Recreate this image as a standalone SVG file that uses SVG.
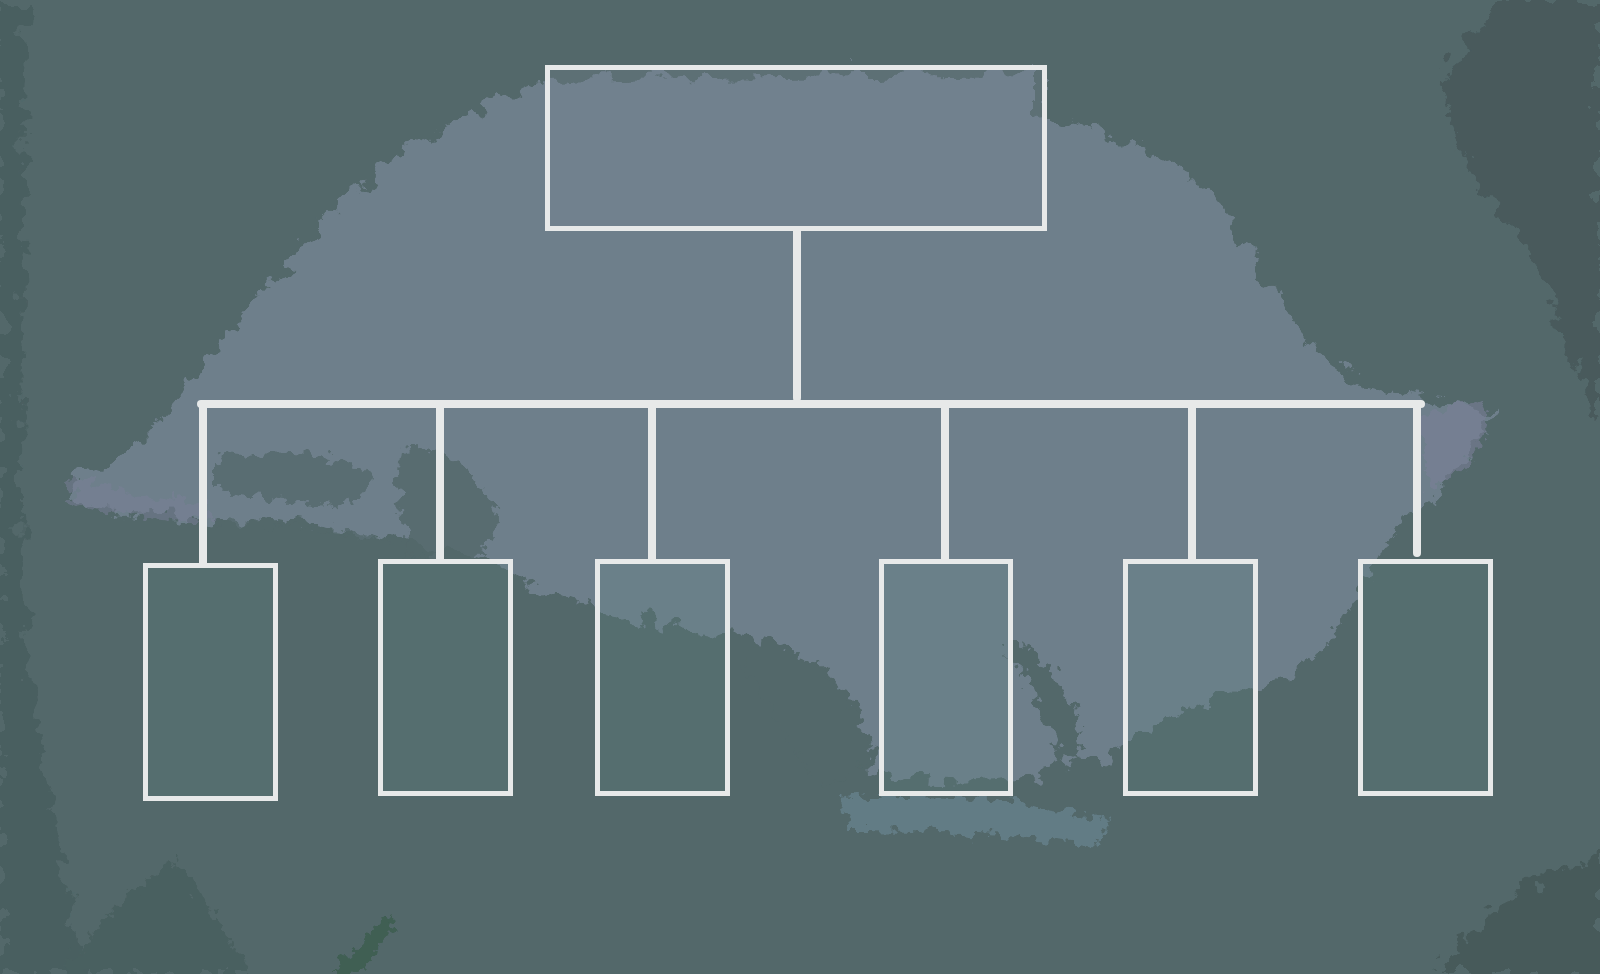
<svg xmlns="http://www.w3.org/2000/svg" width="1600" height="974" viewBox="0 0 1600 974">
<style>
.box{stroke:#e7e9e9;stroke-width:5;fill:#5f8486;fill-opacity:0.22}
.top{stroke:#e7e9e9;stroke-width:5;fill:#7a8896;fill-opacity:0.25}
.conn{stroke:#e7e9e9;stroke-width:8;stroke-linecap:round;fill:none}
</style>
<defs>
<filter id="rough" x="-10%" y="-10%" width="120%" height="120%">
<feTurbulence type="fractalNoise" baseFrequency="0.045" numOctaves="4" seed="3"/>
<feDisplacementMap in="SourceGraphic" scale="38" xChannelSelector="R" yChannelSelector="G"/>
</filter>
<filter id="rough2" x="-10%" y="-10%" width="120%" height="120%">
<feTurbulence type="fractalNoise" baseFrequency="0.08" numOctaves="3" seed="7"/>
<feDisplacementMap in="SourceGraphic" scale="26" xChannelSelector="R" yChannelSelector="G"/>
</filter>
</defs>
<g id="background">
<rect width="1600" height="974" fill="#53686a"/>
<path filter="url(#rough)" fill="#6e7f8b" d="M 545 78 C 480 110 420 140 380 170 C 330 205 300 250 265 290 C 235 320 215 350 195 380 C 165 410 140 440 110 465 L 70 478 L 85 505 C 150 515 300 522 420 545 C 520 565 560 600 620 615 C 700 635 760 635 800 660 C 850 690 870 730 870 770 C 950 790 1050 780 1120 750 C 1150 720 1200 700 1280 680 C 1330 650 1360 605 1385 545 C 1420 505 1470 470 1490 410 C 1440 400 1385 400 1340 372 C 1290 335 1262 272 1232 222 C 1200 172 1120 130 1040 115 L 1040 72 Z"/>
<path filter="url(#rough2)" fill="#53686a" opacity="0.75" d="M 215 460 C 260 450 320 455 360 465 C 380 480 370 500 330 505 C 280 500 240 495 215 490 Z"/>
<path filter="url(#rough2)" fill="#53686a" opacity="0.75" d="M 215 520 C 280 525 350 530 410 545 L 400 560 L 215 560 Z"/>
<path filter="url(#rough2)" fill="#53686a" opacity="0.8" d="M 400 450 C 440 440 480 470 500 520 L 480 560 L 410 555 C 400 520 395 480 400 450 Z"/>
<path filter="url(#rough2)" fill="#53686a" d="M 760 640 C 820 650 860 700 870 760 L 820 790 C 790 740 760 700 740 660 Z"/>
<path filter="url(#rough2)" fill="#53686a" d="M 1015 640 C 1050 660 1075 700 1085 750 L 1060 760 C 1050 720 1030 680 1005 655 Z"/>
<path filter="url(#rough2)" fill="#7290a0" opacity="0.5" d="M 840 800 C 920 790 1040 800 1110 820 L 1100 845 C 1020 835 920 830 850 830 Z"/>
<path filter="url(#rough2)" fill="#7a7f98" opacity="0.6" d="M 1420 420 C 1450 400 1480 400 1490 415 C 1480 450 1460 480 1430 490 Z"/>
<path filter="url(#rough2)" fill="#7a7f98" opacity="0.5" d="M 70 478 C 120 490 170 500 210 505 L 210 520 C 160 518 110 512 75 505 Z"/>
<path filter="url(#rough)" fill="#485a5c" d="M 1500 0 L 1600 0 L 1600 420 C 1570 380 1560 300 1530 250 C 1490 200 1450 140 1440 80 C 1460 40 1490 20 1500 0 Z"/>
<path filter="url(#rough)" fill="#4a5f60" d="M 0 0 L 30 0 C 25 80 20 200 25 300 C 20 450 15 600 40 750 C 60 850 70 930 90 974 L 0 974 Z"/>
<path filter="url(#rough2)" fill="#4a6060" d="M 60 974 C 100 920 140 880 180 860 C 200 900 230 940 250 974 Z"/>
<path filter="url(#rough2)" fill="#3f5e52" d="M 330 974 C 350 950 380 920 395 915 C 390 935 370 960 355 974 Z"/>
<path filter="url(#rough)" fill="#475a5a" d="M 1440 974 C 1460 930 1500 900 1540 880 C 1570 870 1590 860 1600 850 L 1600 974 Z"/>
</g>
<g id="connectors">
<line class="conn" x1="797" y1="231" x2="797" y2="398"/>
<line class="conn" x1="201" y1="404" x2="1421" y2="404"/>
<line class="conn" x1="203" y1="404" x2="203" y2="563"/>
<line class="conn" x1="440" y1="404" x2="440" y2="559"/>
<line class="conn" x1="652" y1="404" x2="652" y2="559"/>
<line class="conn" x1="945" y1="404" x2="945" y2="559"/>
<line class="conn" x1="1192" y1="404" x2="1192" y2="559"/>
<line class="conn" x1="1417" y1="404" x2="1417" y2="553"/>
</g>
<g id="node-top"><rect class="top" x="547.5" y="67.5" width="497" height="161"/></g>
<g id="node-1"><rect class="box" x="145.5" y="565.5" width="130" height="233"/></g>
<g id="node-2"><rect class="box" x="380.5" y="561.5" width="130" height="232"/></g>
<g id="node-3"><rect class="box" x="597.5" y="561.5" width="130" height="232"/></g>
<g id="node-4"><rect class="box" x="881.5" y="561.5" width="129" height="232"/></g>
<g id="node-5"><rect class="box" x="1125.5" y="561.5" width="130" height="232"/></g>
<g id="node-6"><rect class="box" x="1360.5" y="561.5" width="130" height="232"/></g>
</svg>
